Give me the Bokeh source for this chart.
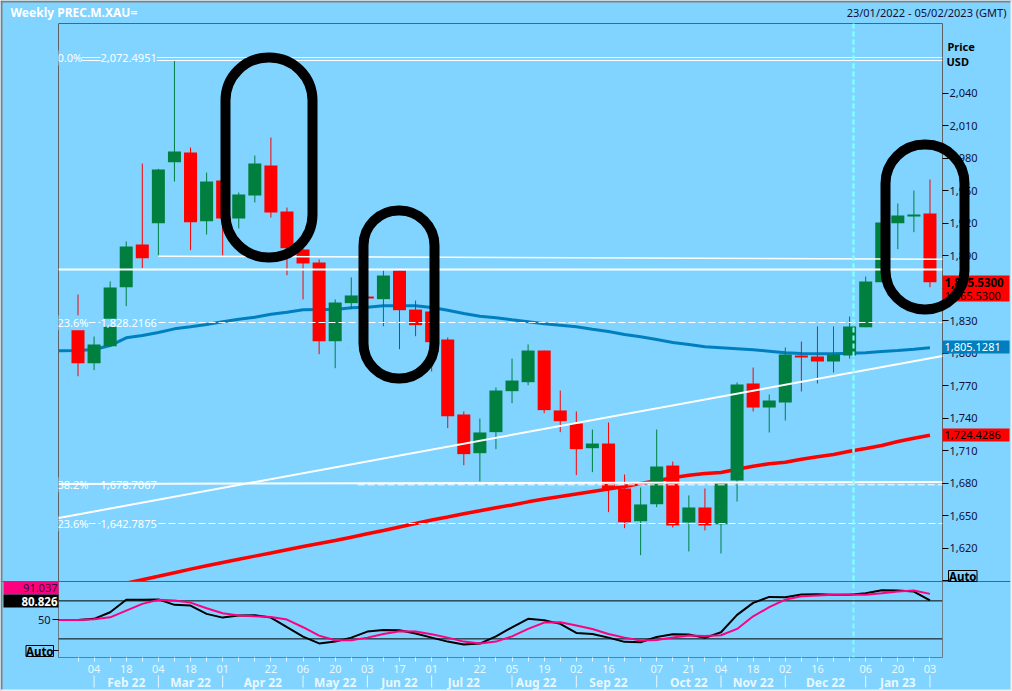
from bokeh.plotting import figure
from bokeh.layouts import column
from bokeh.embed import file_html
from bokeh.resources import INLINE
from bokeh.models import (Range1d, LinearAxis, FixedTicker, BoxAnnotation, Label)
from bokeh.core.properties import value

BG = "#80D4FF"
GREEN = "#007F3F"
RED = "#FF0000"
BLUE = "#007FBF"
PINK = "#FF007F"
FONT = "Noto Sans"

# Weekly OHLC
OPEN = [1822.9,1790.9,1806.6,1861.0,1900.4,1920.1,1976.3,1985.3,1921.9,1959.5,1924.4,1945.6,1973.3,1930.9,1895.8,1883.8,1811.2,1846.3,1852.4,1850.0,1876.4,1840.4,1838.6,1812.8,1743.6,1707.9,1727.3,1765.1,1773.4,1802.6,1747.3,1735.3,1712.5,1716.8,1675.3,1645.2,1660.8,1696.5,1644.0,1657.8,1642.4,1682.7,1772.2,1750.0,1754.7,1798.0,1797.1,1792.5,1798.0,1824.1,1865.6,1920.1,1926.2,1929.0]
HIGH = [1854.3,1815.5,1866.3,1903.2,1975.1,1970.2,2070.5,1989.9,1966.8,1959.5,1948.4,1982.5,1999.1,1934.5,1896.7,1886.6,1849.7,1870.0,1865.4,1876.4,1876.4,1848.7,1838.6,1814.6,1746.4,1739.9,1768.5,1795.2,1808.2,1802.6,1765.7,1746.4,1729.7,1736.2,1688.2,1676.2,1729.7,1700.2,1668.9,1675.3,1680.9,1773.1,1786.9,1762.0,1805.4,1810.9,1824.8,1824.8,1834.0,1870.9,1920.7,1938.2,1950.2,1960.4]
LOW = [1778.9,1784.5,1806.3,1843.5,1878.5,1890.3,1958.5,1895.2,1909.6,1890.3,1915.2,1939.2,1925.3,1872.1,1849.7,1799.2,1786.3,1840.7,1839.5,1825.0,1803.8,1815.8,1783.3,1731.0,1696.8,1681.8,1711.6,1754.0,1770.6,1744.8,1727.3,1687.6,1690.4,1653.5,1638.7,1613.8,1658.1,1639.3,1617.2,1636.6,1615.4,1663.3,1746.4,1727.0,1738.0,1764.8,1772.2,1782.3,1795.2,1824.1,1865.6,1896.1,1911.8,1861.0]
CLOSE = [1790.9,1808.2,1860.7,1898.6,1887.8,1969.6,1986.2,1921.0,1958.5,1924.4,1946.5,1975.1,1929.9,1897.0,1882.9,1811.2,1846.9,1853.4,1850.6,1871.8,1839.8,1826.0,1810.3,1742.0,1707.0,1727.0,1765.7,1774.9,1802.6,1747.6,1737.4,1711.6,1716.8,1675.3,1644.2,1660.6,1695.6,1641.2,1657.8,1641.2,1680.9,1771.3,1750.0,1756.5,1798.9,1796.2,1792.5,1798.9,1824.8,1866.3,1920.7,1927.2,1928.1,1865.53]

MA_BLUE_IDX = list(range(-2, 54))
MA_BLUE = [1802.0,1802.4,1802.6,1803.5,1807.2,1814.3,1816.5,1819.2,1822.6,1824.5,1826.6,1829.1,1831.5,1833.3,1836.1,1838.0,1840.2,1840.4,1840.4,1842.0,1842.6,1843.9,1843.9,1843.9,1842.3,1839.8,1836.8,1834.3,1832.8,1830.9,1829.1,1827.3,1826.0,1824.5,1822.3,1820.2,1817.4,1815.3,1812.8,1810.0,1808.2,1806.0,1805.1,1804.2,1803.3,1802.0,1800.5,1799.9,1799.6,1799.6,1800.1,1800.5,1801.7,1802.6,1803.8,1805.1281]
MA_RED_IDX = list(range(3, 54))
MA_RED = [1587.9,1591.1,1594.3,1597.6,1600.9,1604.0,1607.1,1610.0,1612.9,1615.8,1618.8,1621.8,1624.6,1627.3,1630.4,1633.5,1636.6,1639.8,1643.0,1646.3,1649.0,1652.0,1654.7,1657.5,1660.1,1663.0,1665.6,1667.9,1670.2,1672.5,1674.8,1677.2,1679.9,1682.5,1685.2,1687.6,1689.2,1690.1,1693.1,1695.9,1698.1,1699.6,1702.3,1704.6,1706.7,1709.7,1712.2,1715.0,1718.7,1721.7,1724.4286]

STOCH_IDX = list(range(-2, 54))
STOCH_K = [50,50,50,51.6,62,81.7,81.7,82.3,73.7,72.6,59.5,53.6,56.8,57.3,53.6,38.4,23.6,12.8,15.7,22,31.5,34.2,33.6,28.4,22,15.7,11,12.6,24,38.3,51.6,49.4,43.7,29.4,27.8,22,15.3,14.6,23.1,27.3,26.8,21.6,30.4,57.9,76.9,86.3,85.8,90,90.4,89.5,89.5,92,96.7,96.3,94.7,80.826]
STOCH_D = [50,50,50,51,54,64.7,75.3,81.6,80.5,77.3,68.3,60.4,56.8,55.7,54.7,50.5,38.4,25.2,17.8,17.8,22,27.8,32,31.5,27.3,22,15.7,12.6,15.7,24,35.7,45.7,46.2,41,35.7,27.8,22,17.3,18.4,22,25.2,24.7,25.7,35.7,55.7,70,82,87.4,88.5,89.5,90,89.5,92,95,96.3,91.037]

PRICE_TICKS = [1620,1650,1680,1710,1740,1770,1800,1830,1860,1890,1920,1950,1980,2010,2040]
DAY_LABELS = {1:"04",3:"18",5:"04",7:"18",9:"01",12:"22",14:"06",16:"20",18:"03",20:"17",22:"01",25:"22",27:"05",29:"19",31:"02",33:"16",36:"07",38:"21",40:"04",42:"18",44:"02",46:"16",49:"06",51:"20",53:"03"}
MONTHS = ["Feb 22","Mar 22","Apr 22","May 22","Jun 22","Jul 22","Aug 22","Sep 22","Oct 22","Nov 22","Dec 22","Jan 23"]
MONTH_CENTRES = [3,7,11.5,16,20,24,28.5,33,38,42,46.5,51]
MONTH_STARTS = [1,5,9,14,18,22,27,31,36,40,44,49,53]

FIB_LABELS = [("0.0%","2,072.4951",2072.4951),("23.6%","1,828.2166",1828.2166),
              ("38.2%","1,678.7067",1678.7067),("23.6%","1,642.7875",1642.7875)]
LEVEL_SOLID = 1877.3
TREND_X = [-1.21, 53.78]
TREND_Y = [1648.1, 1797.6]
FLAT_X = [5, 53.78]
FLAT_Y = [1889.6, 1886.8]
SOLID38_X = [-1.21, 53.78]
SOLID38_Y = [1679.5, 1681.3]
CURSOR_IDX = 48.22
STOCH_LEVELS = [80, 20]

L, R, T, B = 58, 942, 23, 657      # frame edges on the page, px
W, H = 1012, 691
PER_BAR = 16.075
IDX0 = 77.5
x0 = (L - IDX0) / PER_BAR
x1 = (R - IDX0) / PER_BAR


def bar_px(i):
    return IDX0 + PER_BAR * i


p = figure(width=W, height=H, output_backend="svg", toolbar_location=None,
           x_range=Range1d(x0, x1), y_range=Range1d(1519.4, 2104.3),
           y_axis_location="right", min_border_left=L, min_border_right=W - R,
           min_border_top=T, min_border_bottom=H - B,
           background_fill_color=BG, border_fill_color=BG,
           outline_line_color="#606060", outline_line_width=1, frame_align=False)
p.grid.visible = False
p.extra_y_ranges = {"ind": Range1d(-9.4, 991.7), "py": Range1d(B, T)}
p.extra_x_ranges = {"px": Range1d(L, R)}

# price axis
ya = p.yaxis[0]
ya.ticker = FixedTicker(ticks=PRICE_TICKS + [1590])
ya.major_label_overrides = {t: f"{t:,}" for t in PRICE_TICKS} | {1590: ""}
ya.axis_line_color = None
ya.major_tick_in = 0
ya.major_tick_out = 6
ya.minor_tick_line_color = None
ya.major_tick_line_color = "#000000"
ya.major_label_text_font = FONT
ya.major_label_text_font_size = "11px"
ya.major_label_text_color = "#10103a"
ya.major_label_standoff = 1

# indicator axis
ia = LinearAxis(y_range_name="ind", ticker=FixedTicker(ticks=[2, 50]),
                major_label_overrides={2: "", 50: "50"}, axis_line_color=None,
                major_tick_in=0, major_tick_out=6, minor_tick_line_color=None,
                major_tick_line_color="#000000", major_label_text_font=FONT,
                major_label_text_font_size="11px", major_label_text_color="#10103a",
                major_label_standoff=2)
p.add_layout(ia, "left")

# date axis
xa = p.xaxis[0]
ticks = list(range(54))
xa.ticker = FixedTicker(ticks=ticks)
xa.major_label_overrides = {i: DAY_LABELS.get(i, "") for i in ticks}
xa.axis_line_color = None
xa.minor_tick_line_color = None
xa.major_tick_in = 0
xa.major_tick_out = 4
xa.major_tick_line_color = "#e8f8ff"
xa.major_label_text_font = FONT
xa.major_label_text_font_size = "11px"
xa.major_label_text_color = "#e8f8ff"
xa.major_label_standoff = 3

# moving averages under the bars
p.line(MA_BLUE_IDX, MA_BLUE, line_color=BLUE, line_width=3)
p.line(MA_RED_IDX, MA_RED, line_color=RED, line_width=3.5)

# candles
idx = list(range(54))
col = [GREEN if c >= o else RED for o, c in zip(OPEN, CLOSE)]
p.vspan(x=[CURSOR_IDX], line_color="#7FFFFF", line_width=2, line_dash="5 3")
p.segment(idx, HIGH, idx, LOW, line_color=col, line_width=1)
p.vbar(x=idx, bottom=[min(o, c) for o, c in zip(OPEN, CLOSE)],
       top=[max(o, c) for o, c in zip(OPEN, CLOSE)], width=0.81, fill_color=col, line_color=None)

# dashed and double fibonacci levels, with labels that mask them
p.hspan(y=[FIB_LABELS[1][2], FIB_LABELS[3][2]], line_color="white", line_width=1, line_dash="7 3")
p.line([17.4, x1], [FIB_LABELS[2][2]] * 2, line_color="white", line_width=1, line_dash="7 3")
p.hspan(y=[FIB_LABELS[0][2], FIB_LABELS[0][2] - 1.9], line_color="white", line_width=1)
for pct, num, val in FIB_LABELS:
    p.text([57], [val], text=[pct], x_range_name="px", text_color="white",
           text_font=value(FONT), text_font_size="11px", text_baseline="middle",
           background_fill_color=BG)
    p.text([100], [val], text=[num], x_range_name="px", text_color="white",
           text_font=value(FONT), text_font_size="11px", text_baseline="middle",
           background_fill_color=BG)

# solid white lines on top of the bars
p.hspan(y=[LEVEL_SOLID], line_color="white", line_width=2)
p.line(FLAT_X, FLAT_Y, line_color="white", line_width=1.5)
p.line(SOLID38_X, SOLID38_Y, line_color="white", line_width=2)
p.line(TREND_X, TREND_Y, line_color="white", line_width=2)

# indicator pane: hide what runs past the pane edge, then draw it
p.quad(left=[L], right=[R], top=[581], bottom=[B], x_range_name="px", y_range_name="py",
       fill_color=BG, line_color=None)
p.vspan(x=[CURSOR_IDX], y_range_name="py", line_color="#7FFFFF", line_width=2, line_dash="5 3")
for lv in STOCH_LEVELS:
    p.line([x0, x1], [lv, lv], y_range_name="ind", line_color="black", line_width=1)
p.line(STOCH_IDX, STOCH_K, y_range_name="ind", line_color="black", line_width=2)
p.line(STOCH_IDX, STOCH_D, y_range_name="ind", line_color=PINK, line_width=2)

# a transparent page-sized figure above the chart, for what lies outside the chart's frame
q = figure(width=W, height=H, output_backend="svg", toolbar_location=None,
           x_range=Range1d(0, W), y_range=Range1d(H, 0),
           x_axis_location=None, y_axis_location=None,
           min_border_left=0, min_border_right=0, min_border_top=0, min_border_bottom=0,
           background_fill_color=None, border_fill_color=None, outline_line_color=None,
           margin=(-H, 0, 0, 0), frame_align=False)
q.grid.visible = False


def box(l, r, t, b, fill, line=None, lw=1, radius=0):
    a = BoxAnnotation(left=l, right=r, top=t, bottom=b, fill_color=fill,
                      line_color=line, line_width=lw, line_alpha=1,
                      fill_alpha=1 if fill else 0, border_radius=radius, editable=False)
    q.add_layout(a)
    return a


def label(x, y, s, color="black", size="11px", style="normal", align="left"):
    a = Label(x=x, y=y, text=s, text_color=color, text_font=FONT, text_font_size=size,
              text_font_style=style, text_align=align, text_baseline="middle")
    q.add_layout(a)
    return a


# pane divider and window edges
box(0, 1010, 581.5, 580.5, "#606060")
box(0, 2, H, 0, "#808080")
box(0, W, 2, 0, "#808080")
box(1010, W, H, 0, "#f0f0f0")
box(0, W, H, 689, "#f0f0f0")

# month strip
for s in MONTH_STARTS:
    box(bar_px(s) - 0.5, bar_px(s) + 0.5, 675, 687, "#e8f8ff")
for m, c in zip(MONTHS, MONTH_CENTRES):
    label(bar_px(c), 681.5, m, color="#e8f8ff", size="12px", style="bold", align="center")

# value tags
box(942, 1009, 275, 301, RED)
label(944, 282, f"{CLOSE[-1]:,.4f}", size="11.5px", style="bold")
label(944, 295, f"{CLOSE[-1]:,.4f}", size="11px")
box(942, 1009, 340, 353, BLUE)
label(944, 346.5, f"{MA_BLUE[-1]:,.4f}", color="white")
box(942, 1009, 428, 441, RED)
label(944, 434.5, f"{MA_RED[-1]:,.4f}")
box(3, 58, 581, 594, PINK)
label(57, 587.5, f"{STOCH_D[-1]:.3f}", align="right", color="#30103a")
box(3, 58, 594, 607, "black")
label(57, 600.5, f"{STOCH_K[-1]:.3f}", align="right", color="white", style="bold", size="11.5px")

# captions
label(10, 12, "Weekly PREC.M.XAU=", color="white", style="bold", size="12px")
label(1006, 12, "23/01/2022 - 05/02/2023 (GMT)", color="#10103a", align="right")
label(947, 46, "Price", style="bold")
label(946, 61, "USD", style="bold")

for l_, r_, t_, b_ in [(948, 976.5, 570, 581), (25.5, 53, 645, 656)]:
    box(l_, r_, t_, b_, None, line="black")
    label((l_ + r_) / 2, (t_ + b_) / 2, "Auto", style="bold", align="center", size="11.5px")

# hand-drawn capsules
box(225, 312, 57, 257, None, line="black", lw=10, radius=43)
box(363, 434, 210, 378, None, line="black", lw=10, radius=35)
box(885, 964, 144, 309, None, line="black", lw=10, radius=39)

open("out.html", "w").write(file_html(column(p, q), INLINE))
